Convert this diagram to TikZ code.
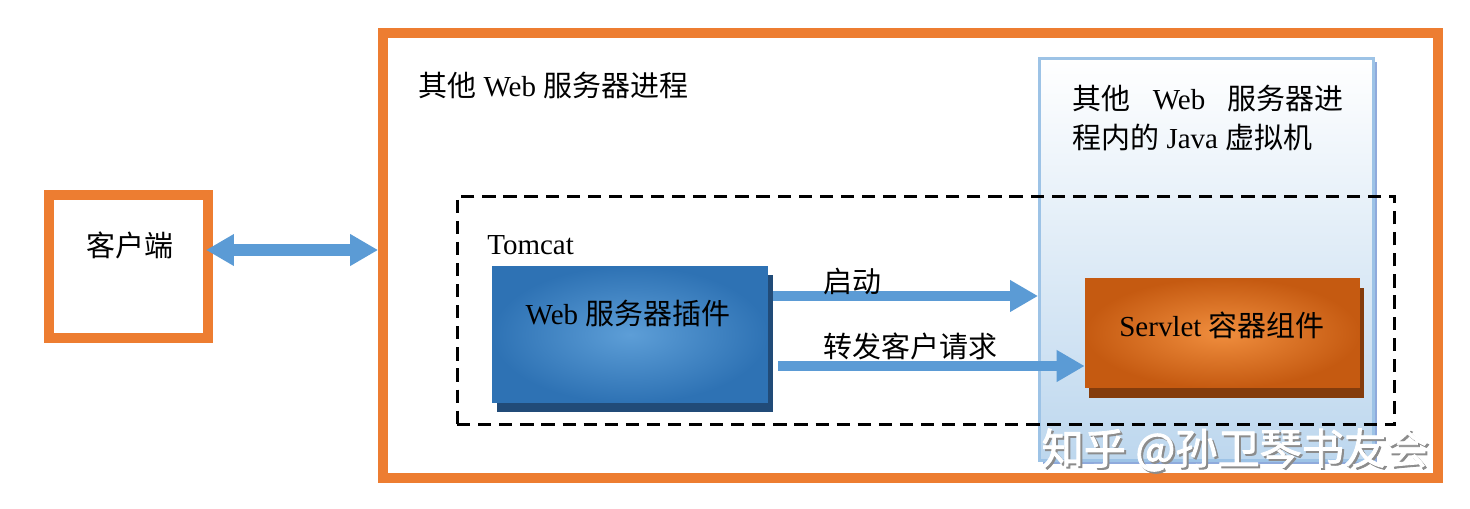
\documentclass[tikz,border=0pt]{standalone}
\usepackage{fontspec}
\setmainfont{Liberation Serif}
\newfontfamily\cjk{Noto Sans CJK SC}
\newfontfamily\markfont[FakeBold=2]{Noto Sans CJK SC}
\newcommand{\zh}[1]{{\cjk #1}}
\usepackage{tikz}
\usetikzlibrary{arrows.meta,positioning,calc,shadows}
\definecolor{frame}{RGB}{237,125,49}
\definecolor{flowblue}{RGB}{91,155,213}
\definecolor{jvmedge}{RGB}{157,195,230}
\definecolor{jvmfill}{RGB}{189,215,238}
\definecolor{jvmshadow}{RGB}{143,170,220}
\definecolor{plugincore}{RGB}{93,158,215}
\definecolor{pluginedge}{RGB}{46,114,180}
\definecolor{pluginshadow}{RGB}{33,75,120}
\definecolor{servletcore}{RGB}{240,142,62}
\definecolor{servletedge}{RGB}{197,90,17}
\definecolor{servletshadow}{RGB}{132,60,12}

\begin{document}
\begin{tikzpicture}[
  x=0.02cm,y=-0.02cm,
  every node/.style={font=\fontsize{16.5}{22.7}\selectfont},
  framebox/.style={draw=frame,line width=5.7pt,inner sep=0pt},
  jvmbox/.style={draw=jvmedge,line width=1.7pt,top color=white,bottom color=jvmfill,
    general shadow={fill=jvmshadow,shadow xshift=2pt,shadow yshift=-2pt},inner sep=0pt},
  scopebox/.style={draw,line width=1.7pt,dash pattern=on 7.5pt off 4.5pt,inner sep=0pt},
  pluginbox/.style={inner color=plugincore,outer color=pluginedge,
    general shadow={fill=pluginshadow,shadow xshift=2.6pt,shadow yshift=-5pt},inner sep=0pt},
  servletbox/.style={inner color=servletcore,outer color=servletedge,
    general shadow={fill=servletshadow,shadow xshift=2.3pt,shadow yshift=-5.5pt},inner sep=0pt},
  caption/.style={inner sep=0pt},
  flow/.style={draw=flowblue,line width=5.7pt,-{Triangle[length=0.56cm,width=0.6cm]}},
  duplex/.style={draw=flowblue,line width=6.5pt,{Triangle[length=0.56cm,width=0.6cm]}-{Triangle[length=0.56cm,width=0.6cm]}}
]
\useasboundingbox (0,0) rectangle (1470,508);

% outer process and client
\node[framebox,minimum width=21.1cm,minimum height=8.9cm] (proc) at (910.5,255.5) {};
\node[framebox,minimum width=3.18cm,minimum height=2.86cm] (client) at (128.5,266.5) {};
\node[caption] (clientname) at (130,245) {\zh{客户端}};
\node[caption,anchor=west] (procname) at (418,85) {\zh{其他} Web \zh{服务器进程}};

% java virtual machine
\node[jvmbox,minimum width=6.68cm,minimum height=8.04cm] (jvm) at (1206.5,259.5) {};
\node[caption,anchor=west,align=left] (jvmname) at (1072,118)
  {\zh{其他}\hspace{4.5mm}Web\hspace{4.5mm}\zh{服务器进}\\\zh{程内的} Java \zh{虚拟机}};

% tomcat
\node[scopebox,minimum width=18.76cm,minimum height=4.58cm] (tomcat) at (926,310.5) {};
\node[caption,anchor=west] (tomcatname) at (487,245) {Tomcat};
\node[pluginbox,minimum width=5.52cm,minimum height=2.74cm] (plugin) at (630,334.5) {};
\node[caption] (pluginname) at (628,313) {Web \zh{服务器插件}};
\node[servletbox,minimum width=5.5cm,minimum height=2.2cm] (servlet) at (1222.5,333) {};
\node[caption] (servletname) at (1222,325) {Servlet \zh{容器组件}};

% connectors
\coordinate (duplexL) at ($(client.east)+(-7,-16.5)$);
\draw[duplex] (duplexL) -- (duplexL -| proc.west);
\coordinate (startL) at ($(plugin.east)+(5,-38.5)$);
\draw[flow] (startL) -- (startL -| jvm.west)
  node[caption,pos=0.3,yshift=0.3cm] (startname) {\zh{启动}};
\coordinate (relayL) at ($(plugin.east)+(10,31.5)$);
\draw[flow] (relayL) -- (relayL -| servlet.west)
  node[caption,pos=0.43,yshift=0.4cm] (relayname) {\zh{转发客户请求}};

% watermark
\node[font=\markfont\fontsize{24}{24}\selectfont,text=black!45] (markshade) at (1237,452) {知乎 @孙卫琴书友会};
\node[font=\markfont\fontsize{24}{24}\selectfont,text=white] (mark) at (1235,450) {知乎 @孙卫琴书友会};
\end{tikzpicture}
\end{document}
